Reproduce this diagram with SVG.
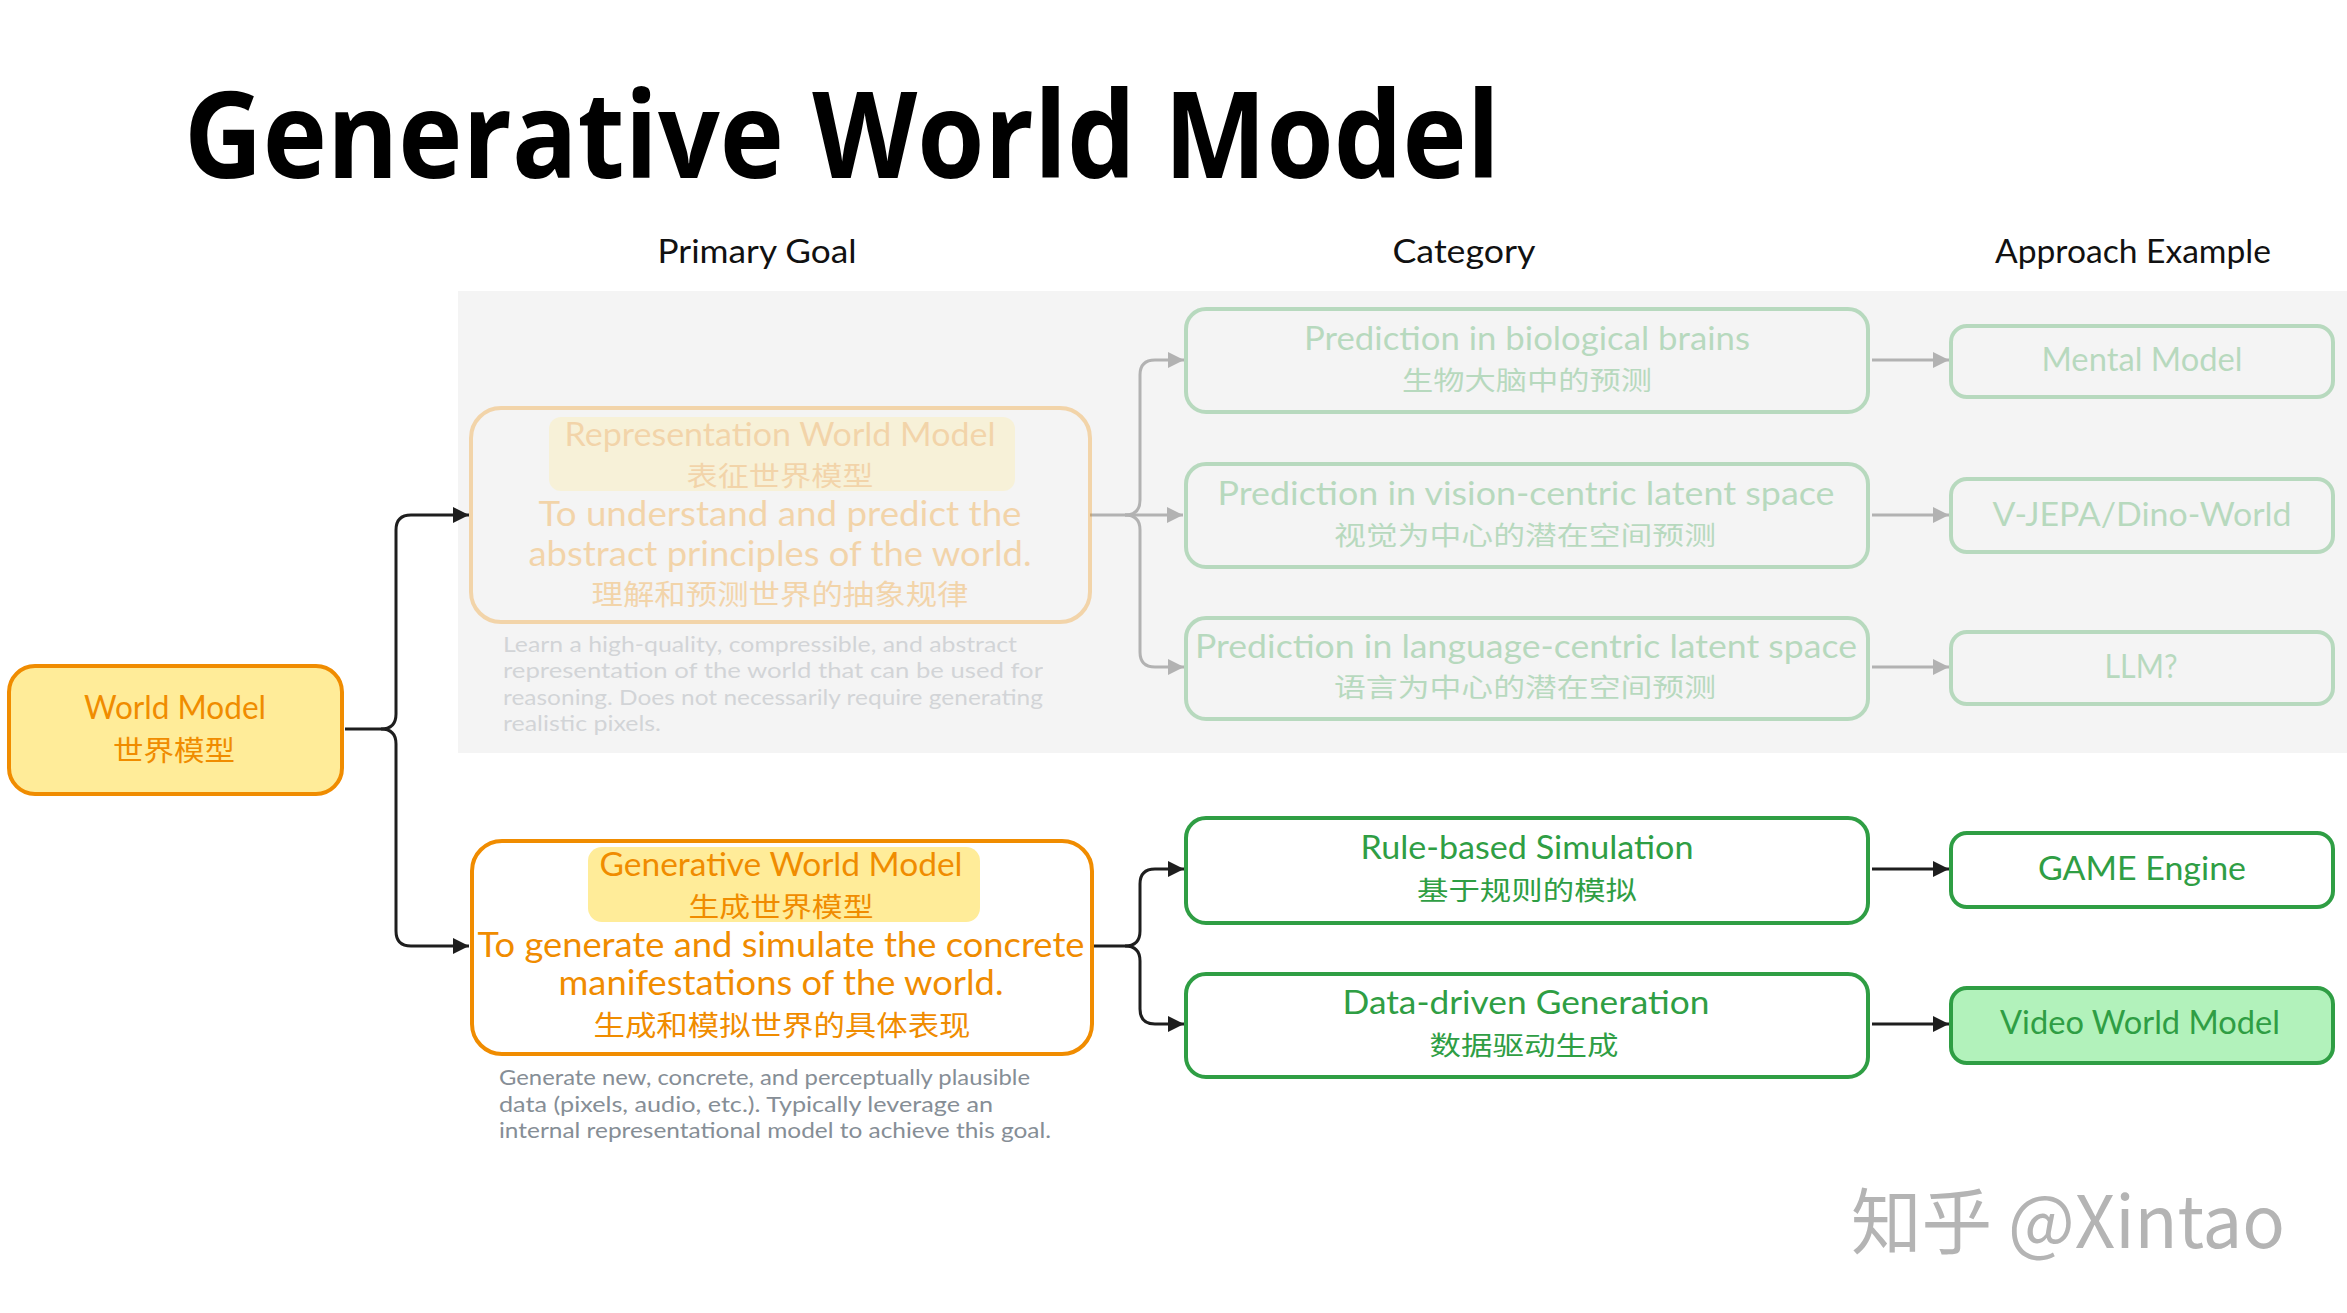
<svg xmlns="http://www.w3.org/2000/svg" width="2347" height="1313" viewBox="0 0 2347 1313">
<defs>
<style>
.hand{font-family:"Lato","Noto Sans CJK SC",sans-serif;}
.cjk{font-family:"Noto Sans CJK SC",sans-serif;}
.title{font-family:"Open Sans","Noto Sans",sans-serif;font-weight:700;font-size:120px;fill:#000;}
.hdr{font-size:32px;fill:#111;text-anchor:middle;}
.org{fill:#f08c00;text-anchor:middle;}
.grn{fill:#2f9e44;text-anchor:middle;}
.desc{fill:#868e96;font-size:22px;}
.obox{fill:#ffffff;stroke:#f08c00;stroke-width:4;}
.gbox{fill:#ffffff;stroke:#2f9e44;stroke-width:4;}
.gboxf{fill:#b2f2bb;stroke:#2f9e44;stroke-width:4;}
.hl{fill:#ffec99;stroke:none;}
.conn{fill:none;stroke:#1e1e1e;stroke-width:3;}
.faded{opacity:0.3;}
</style>
<marker id="ah" viewBox="0 0 10 10" refX="10" refY="5" markerWidth="16" markerHeight="16" markerUnits="userSpaceOnUse" orient="auto">
<path d="M0,0 L10,5 L0,10 z" fill="#1e1e1e"/>
</marker>
</defs>
<rect x="0" y="0" width="2347" height="1313" fill="#ffffff"/>
<rect id="panel" x="458" y="291" width="1889" height="462" fill="#f4f4f4"/>

<text class="title" x="184" y="178" textLength="1316" lengthAdjust="spacingAndGlyphs">Generative World Model</text>

<g id="headers" class="hand">
<text class="hdr" x="757" y="263" textLength="199" lengthAdjust="spacingAndGlyphs">Primary Goal</text>
<text class="hdr" x="1464" y="263" textLength="143" lengthAdjust="spacingAndGlyphs">Category</text>
<text class="hdr" x="2133" y="263" textLength="276" lengthAdjust="spacingAndGlyphs">Approach Example</text>
</g>

<g id="connectors">
<path class="conn" d="M345,729 L381,729 Q396,729 396,714 L396,530 Q396,515 411,515 L469,515" marker-end="url(#ah)"/>
<path class="conn" d="M381,729 Q396,729 396,744 L396,931 Q396,946 411,946 L469,946" marker-end="url(#ah)"/>
<g class="faded">
<path class="conn" d="M1090,515 L1183,515" marker-end="url(#ah)"/>
<path class="conn" d="M1125,515 Q1140,515 1140,500 L1140,375 Q1140,360 1155,360 L1184,360" marker-end="url(#ah)"/>
<path class="conn" d="M1125,515 Q1140,515 1140,530 L1140,652 Q1140,667 1155,667 L1184,667" marker-end="url(#ah)"/>
<path class="conn" d="M1872,360 L1949,360" marker-end="url(#ah)"/>
<path class="conn" d="M1872,515 L1949,515" marker-end="url(#ah)"/>
<path class="conn" d="M1872,667 L1949,667" marker-end="url(#ah)"/>
</g>
<path class="conn" d="M1093,946 L1125,946 Q1140,946 1140,931 L1140,884 Q1140,869 1155,869 L1184,869" marker-end="url(#ah)"/>
<path class="conn" d="M1125,946 Q1140,946 1140,961 L1140,1009 Q1140,1024 1155,1024 L1184,1024" marker-end="url(#ah)"/>
<path class="conn" d="M1872,869 L1949,869" marker-end="url(#ah)"/>
<path class="conn" d="M1872,1024 L1949,1024" marker-end="url(#ah)"/>
</g>

<g id="world-model" class="hand">
<rect x="9" y="666" width="333" height="128" rx="26" fill="#ffec99" stroke="#f08c00" stroke-width="4"/>
<text class="org" x="175" y="719" font-size="32" textLength="182" lengthAdjust="spacingAndGlyphs">World Model</text>
<text class="org cjk" x="174" y="761" font-size="28" textLength="122" lengthAdjust="spacingAndGlyphs">世界模型</text>
</g>

<g id="representation-world-model" class="hand faded">
<rect class="obox" x="471" y="408" width="619" height="214" rx="30" fill="#f4f4f4" style="fill:#f4f4f4"/>
<rect class="hl" x="549" y="417" width="466" height="74" rx="12"/>
<text class="org" x="780" y="446" font-size="32" textLength="431" lengthAdjust="spacingAndGlyphs">Representation World Model</text>
<text class="org cjk" x="780" y="486" font-size="27" textLength="187" lengthAdjust="spacingAndGlyphs">表征世界模型</text>
<text class="org" x="780" y="526" font-size="34" textLength="483" lengthAdjust="spacingAndGlyphs">To understand and predict the</text>
<text class="org" x="780" y="566" font-size="34" textLength="503" lengthAdjust="spacingAndGlyphs">abstract principles of the world.</text>
<text class="org cjk" x="780" y="605" font-size="28" textLength="377" lengthAdjust="spacingAndGlyphs">理解和预测世界的抽象规律</text>
</g>
<g id="representation-desc" class="hand faded">
<text class="desc" x="503" y="652" textLength="514" lengthAdjust="spacingAndGlyphs">Learn a high-quality, compressible, and abstract</text>
<text class="desc" x="503" y="678" textLength="540" lengthAdjust="spacingAndGlyphs">representation of the world that can be used for</text>
<text class="desc" x="503" y="705" textLength="540" lengthAdjust="spacingAndGlyphs">reasoning. Does not necessarily require generating</text>
<text class="desc" x="503" y="731" textLength="158" lengthAdjust="spacingAndGlyphs">realistic pixels.</text>
</g>

<g id="generative-world-model" class="hand">
<rect class="obox" x="472" y="841" width="620" height="213" rx="30"/>
<rect class="hl" x="588" y="847" width="392" height="75" rx="14"/>
<text class="org" x="781" y="876" font-size="32" textLength="363" lengthAdjust="spacingAndGlyphs">Generative World Model</text>
<text class="org cjk" x="781" y="917" font-size="27" textLength="185" lengthAdjust="spacingAndGlyphs">生成世界模型</text>
<text class="org" x="781" y="957" font-size="34" textLength="607" lengthAdjust="spacingAndGlyphs">To generate and simulate the concrete</text>
<text class="org" x="781" y="995" font-size="34" textLength="445" lengthAdjust="spacingAndGlyphs">manifestations of the world.</text>
<text class="org cjk" x="782" y="1036" font-size="28" textLength="377" lengthAdjust="spacingAndGlyphs">生成和模拟世界的具体表现</text>
</g>
<g id="generative-desc" class="hand">
<text class="desc" x="499" y="1085" textLength="531" lengthAdjust="spacingAndGlyphs">Generate new, concrete, and perceptually plausible</text>
<text class="desc" x="499" y="1112" textLength="494" lengthAdjust="spacingAndGlyphs">data (pixels, audio, etc.). Typically leverage an</text>
<text class="desc" x="499" y="1138" textLength="552" lengthAdjust="spacingAndGlyphs">internal representational model to achieve this goal.</text>
</g>

<g id="cat-biological" class="hand faded">
<rect class="gbox" x="1186" y="309" width="682" height="103" rx="20" style="fill:#f4f4f4"/>
<text class="grn" x="1527" y="350" font-size="32" textLength="446" lengthAdjust="spacingAndGlyphs">Prediction in biological brains</text>
<text class="grn cjk" x="1527" y="390" font-size="26" textLength="250" lengthAdjust="spacingAndGlyphs">生物大脑中的预测</text>
</g>
<g id="cat-vision" class="hand faded">
<rect class="gbox" x="1186" y="464" width="682" height="103" rx="20" style="fill:#f4f4f4"/>
<text class="grn" x="1526" y="505" font-size="32" textLength="617" lengthAdjust="spacingAndGlyphs">Prediction in vision-centric latent space</text>
<text class="grn cjk" x="1525" y="545" font-size="26" textLength="382" lengthAdjust="spacingAndGlyphs">视觉为中心的潜在空间预测</text>
</g>
<g id="cat-language" class="hand faded">
<rect class="gbox" x="1186" y="618" width="682" height="101" rx="20" style="fill:#f4f4f4"/>
<text class="grn" x="1526" y="658" font-size="32" textLength="662" lengthAdjust="spacingAndGlyphs">Prediction in language-centric latent space</text>
<text class="grn cjk" x="1525" y="697" font-size="26" textLength="382" lengthAdjust="spacingAndGlyphs">语言为中心的潜在空间预测</text>
</g>
<g id="ex-mental" class="hand faded">
<rect class="gbox" x="1951" y="326" width="382" height="71" rx="16" style="fill:#f4f4f4"/>
<text class="grn" x="2142" y="371" font-size="32" textLength="201" lengthAdjust="spacingAndGlyphs">Mental Model</text>
</g>
<g id="ex-vjepa" class="hand faded">
<rect class="gbox" x="1951" y="479" width="382" height="73" rx="16" style="fill:#f4f4f4"/>
<text class="grn" x="2142" y="526" font-size="32" textLength="299" lengthAdjust="spacingAndGlyphs">V-JEPA/Dino-World</text>
</g>
<g id="ex-llm" class="hand faded">
<rect class="gbox" x="1951" y="632" width="382" height="72" rx="16" style="fill:#f4f4f4"/>
<text class="grn" x="2141" y="678" font-size="32" textLength="73" lengthAdjust="spacingAndGlyphs">LLM?</text>
</g>

<g id="cat-rule" class="hand">
<rect class="gbox" x="1186" y="818" width="682" height="105" rx="20"/>
<text class="grn" x="1527" y="859" font-size="32" textLength="333" lengthAdjust="spacingAndGlyphs">Rule-based Simulation</text>
<text class="grn cjk" x="1527" y="900" font-size="26" textLength="220" lengthAdjust="spacingAndGlyphs">基于规则的模拟</text>
</g>
<g id="cat-data" class="hand">
<rect class="gbox" x="1186" y="974" width="682" height="103" rx="20"/>
<text class="grn" x="1526" y="1014" font-size="32" textLength="367" lengthAdjust="spacingAndGlyphs">Data-driven Generation</text>
<text class="grn cjk" x="1524" y="1055" font-size="26" textLength="189" lengthAdjust="spacingAndGlyphs">数据驱动生成</text>
</g>
<g id="ex-game" class="hand">
<rect class="gbox" x="1951" y="833" width="382" height="74" rx="16"/>
<text class="grn" x="2142" y="880" font-size="32" textLength="208" lengthAdjust="spacingAndGlyphs">GAME Engine</text>
</g>
<g id="ex-video" class="hand">
<rect class="gboxf" x="1951" y="988" width="382" height="75" rx="16"/>
<text class="grn" x="2140" y="1034" font-size="32" textLength="280" lengthAdjust="spacingAndGlyphs">Video World Model</text>
</g>

<text id="watermark" class="cjk" x="1851" y="1248" font-size="72" fill="#b4b4b4" textLength="434" lengthAdjust="spacingAndGlyphs">知乎 @Xintao</text>
</svg>
